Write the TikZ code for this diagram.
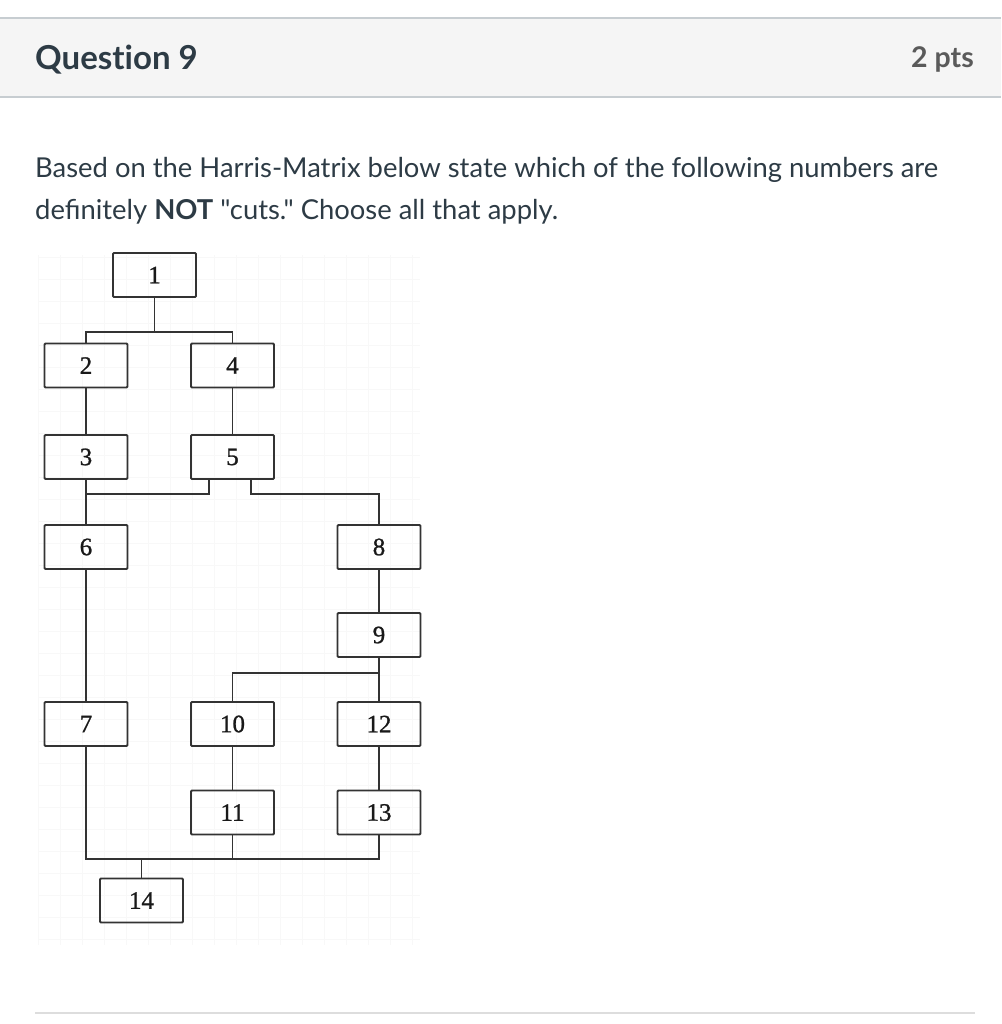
\documentclass[tikz,border=0pt]{standalone}
\usepackage{fontspec}
\setmainfont{Lato}[Ligatures=TeXOff]
\newfontfamily\titlefont{Lato}[Ligatures={NoCommon,TeXOff}]
\newfontfamily\matrixfont{Liberation Serif}[FakeBold=1]
\usetikzlibrary{calc}
\definecolor{canvasText}{HTML}{2D3B45}
\definecolor{ptsGray}{HTML}{5A5A5A}
\definecolor{hdrBack}{HTML}{F5F5F5}
\definecolor{hdrRule}{HTML}{C7CDD1}
\definecolor{boxLine}{HTML}{333333}
\definecolor{gridFaint}{HTML}{F8F8F8}
\definecolor{footRule}{HTML}{DDDDDD}

\begin{document}
\begin{tikzpicture}[x=1pt,y=-1pt,
    unitBox/.style={draw=boxLine,line width=1.9pt,rounded corners=1pt,minimum width=83pt,minimum height=44pt,inner sep=0pt,
      font=\matrixfont\fontsize{25}{25}\selectfont,text=black!90},
    linkLine/.style={draw=boxLine,line width=1.8pt},
    qText/.style={anchor=base west,inner sep=0pt,text=canvasText,font=\fontsize{27.4}{27.4}\selectfont}]

  \useasboundingbox (0,0) rectangle (1001,1024);

  % draw the header band
  \fill[hdrBack] (0,18) rectangle (1001,97);
  \draw[hdrRule,line width=1.5pt] (0,18) -- (1001,18);
  \draw[hdrRule,line width=1.5pt] (0,97) -- (1001,97);
  \node[anchor=base west,inner sep=0pt,text=canvasText,font=\titlefont\bfseries\fontsize{33}{33}\selectfont] (qTitle) at (35,70) {Question 9};
  \node[anchor=base east,inner sep=0pt,text=ptsGray,font=\titlefont\bfseries\fontsize{28.5}{28.5}\selectfont] (qPoints) at (974,68) {2 pts};

  % the question text
  \node[qText] (qLineOne) at (35,178) {Based on the Harris-Matrix below state which of the following numbers are};
  \node[qText] (qLineTwo) at (35,220) {definitely \textbf{NOT} "cuts." Choose all that apply.};

  % draw the faint grid of the scan
  \foreach \gx in {38,60,...,420}
    \draw[gridFaint,line width=1pt] (\gx,255) -- (\gx,945);
  \foreach \gy in {257,279,...,945}
    \draw[gridFaint,line width=1pt] (38,\gy) -- (420,\gy);

  % draw the units
  \def\units{1/154.5/275, 2/86/365.5, 4/232.5/365.5, 3/86/457, 5/232.5/457,
    6/86/547, 8/379/547, 9/379/635, 7/86/724, 10/232.5/724, 12/379/724,
    11/232.5/812.5, 13/379/812.5, 14/141.5/900.5}
  \foreach \lab/\px/\py in \units
    \node[unitBox] (n\lab) at (\px,\py) {\lab};

  % the junctions
  \coordinate (j1) at (154.5,332);
  \coordinate (j3) at (86,494);
  \coordinate (j5) at (379,494);
  \coordinate (j9) at (379,673);
  \coordinate (j14) at (141.5,859);

  % draw the links
  \draw[linkLine] (n1.south) -- (j1);
  \draw[linkLine] (n2.north) |- (j1) -| (n4.north);
  \draw[linkLine] (n2) -- (n3);
  \draw[linkLine] (n4) -- (n5);
  \draw[linkLine] (n3) -- (n6);
  \draw[linkLine] ($(n5.south)+(-23.5,0)$) |- (j3);
  \draw[linkLine] ($(n5.south)+(18.5,0)$) |- (j5) -- (n8.north);
  \draw[linkLine] (n6) -- (n7);
  \draw[linkLine] (n8) -- (n9);
  \draw[linkLine] (n9) -- (n12);
  \draw[linkLine] (j9) -| (n10.north);
  \draw[linkLine] (n10) -- (n11);
  \draw[linkLine] (n12) -- (n13);
  \draw[linkLine] (n7.south) |- (j14) -| (n13.south);
  \draw[linkLine] (n11.south) -- (n11.south |- j14);
  \draw[linkLine] (j14) -- (n14.north);

  % the closing rule
  \draw[footRule,line width=2pt] (35,1013) -- (975,1013);

\end{tikzpicture}
\end{document}
